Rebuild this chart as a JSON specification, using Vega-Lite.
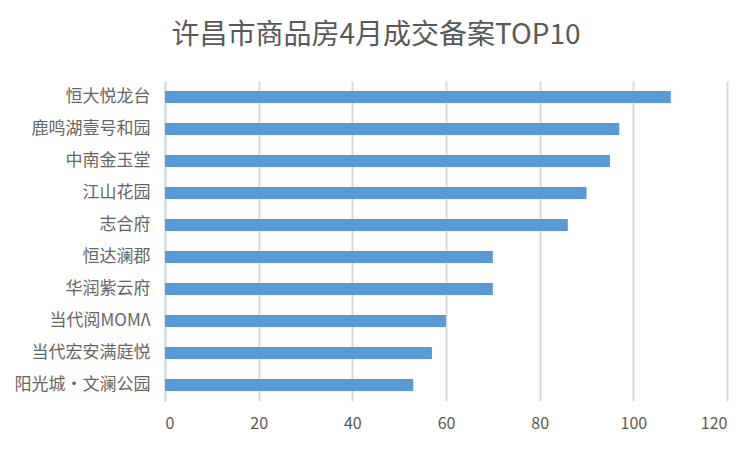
{
  "$schema": "https://vega.github.io/schema/vega-lite/v6.json",
  "autosize": {"type": "none"},
  "width": 562,
  "height": 320,
  "padding": {"left": 165, "top": 81, "right": 25, "bottom": 51},
  "background": "white",
  "title": {
    "text": "许昌市商品房4月成交备案TOP10",
    "font": "Noto Sans CJK SC",
    "fontSize": 28,
    "fontWeight": "normal",
    "color": "#595959",
    "anchor": "middle",
    "dx": -70,
    "offset": 31
  },
  "data": {
    "values": [
      {"name": "恒大悦龙台", "value": 108},
      {"name": "鹿鸣湖壹号和园", "value": 97},
      {"name": "中南金玉堂", "value": 95},
      {"name": "江山花园", "value": 90},
      {"name": "志合府", "value": 86},
      {"name": "恒达澜郡", "value": 70},
      {"name": "华润紫云府", "value": 70},
      {"name": "当代阅MOMΛ", "value": 60},
      {"name": "当代宏安满庭悦", "value": 57},
      {"name": "阳光城·文澜公园", "value": 53}
    ]
  },
  "mark": {"type": "bar", "color": "#5b9bd5"},
  "encoding": {
    "y": {
      "field": "name",
      "type": "nominal",
      "sort": null,
      "title": null,
      "scale": {"paddingInner": 0.62, "paddingOuter": 0.31},
      "axis": {
        "ticks": false,
        "domainColor": "#d9d9d9",
        "domainWidth": 2,
        "labelFont": "Noto Sans CJK SC",
        "labelFontSize": 17,
        "labelColor": "#666666",
        "labelPadding": 15,
        "grid": false
      }
    },
    "x": {
      "field": "value",
      "type": "quantitative",
      "title": null,
      "scale": {"domain": [0, 120], "nice": false},
      "axis": {
        "values": [0, 20, 40, 60, 80, 100, 120],
        "grid": true,
        "gridColor": "#d9d9d9",
        "gridWidth": 2,
        "domain": false,
        "ticks": false,
        "labelFont": "Noto Sans CJK SC",
        "labelFontSize": 16,
        "labelColor": "#595959",
        "labelPadding": 14
      }
    }
  },
  "config": {"view": {"stroke": null}}
}
